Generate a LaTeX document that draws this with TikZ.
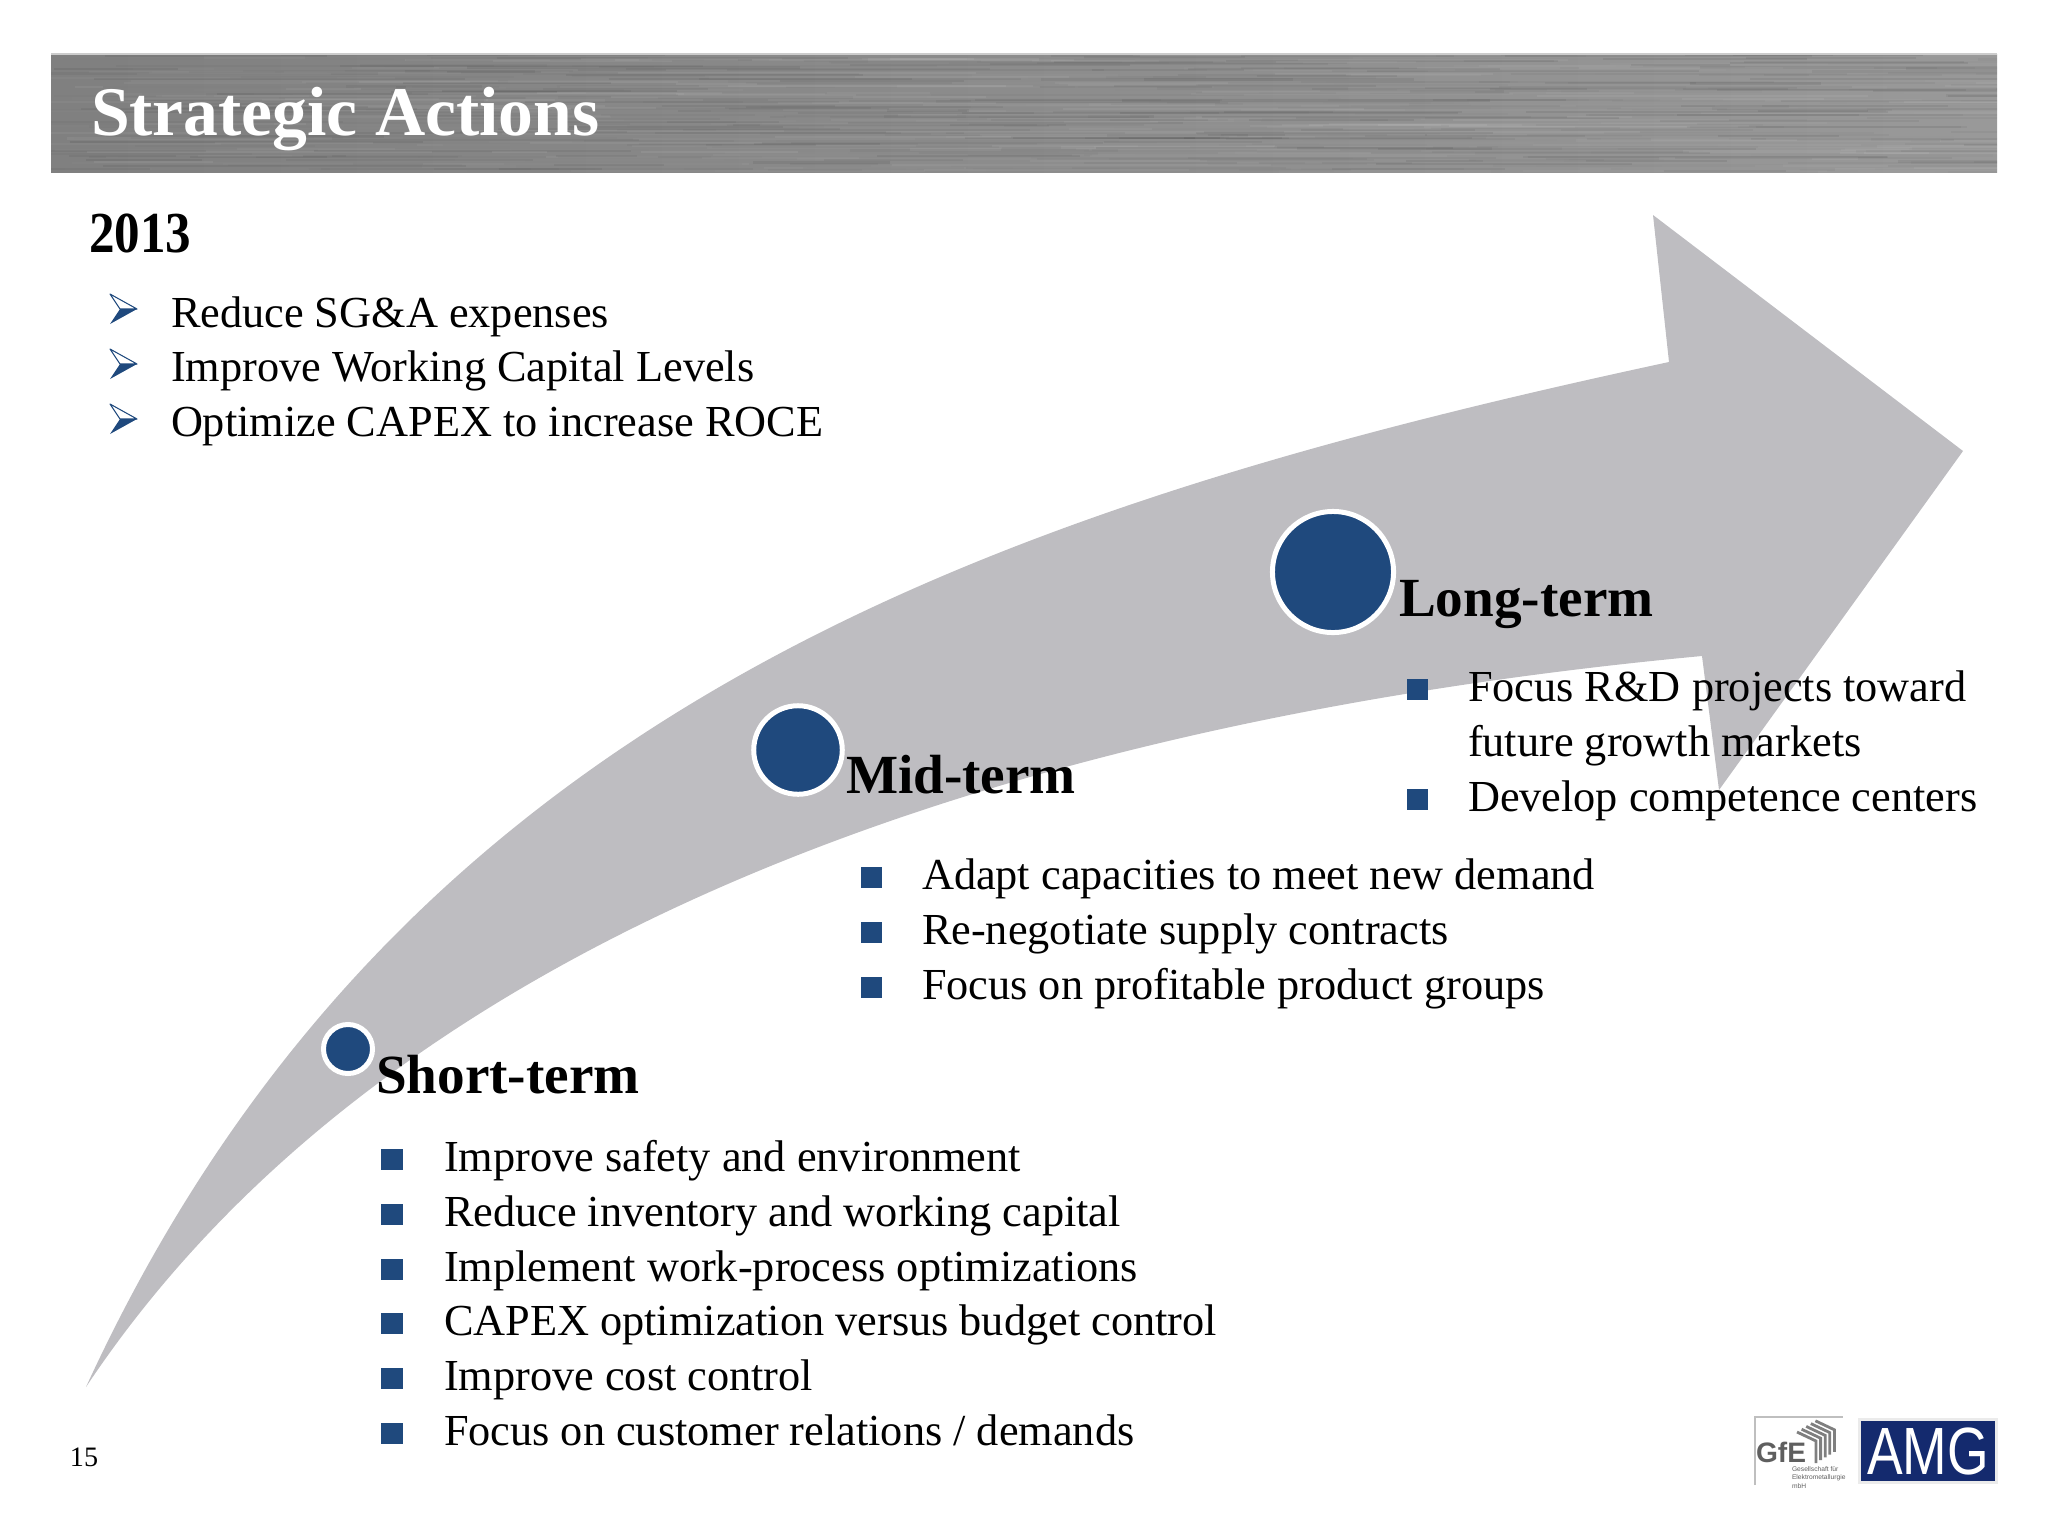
\documentclass[tikz,border=0pt]{standalone}
\usepackage{fontspec}
\setmainfont{Liberation Serif}
\newfontfamily\logofont{Liberation Sans}
\usepackage{tikz}
\definecolor{navyblue}{RGB}{31,73,125}
\definecolor{arrowgray}{RGB}{190,189,193}
\definecolor{amgblue}{RGB}{20,42,110}
\definecolor{gfegray}{RGB}{95,95,95}
\newcommand{\arrowbullet}[1]{
    \draw[navyblue,fill=white,line width=0.3pt,line join=round] (110,#1-15) -- (137,#1) -- (120,#1) -- cycle;
    \fill[navyblue] (110,#1+15) -- (137,#1) -- (120,#1) -- cycle;
}
\begin{document}
\begin{tikzpicture}[x=0.01cm,y=-0.01cm]
    \tikzstyle{every node}=[inner sep=0pt, outer sep=0pt];
    \tikzstyle{item}=[anchor=base west, font=\fontsize{12.6}{15}\selectfont];
    \tikzstyle{term}=[anchor=base west, font=\fontsize{15.7}{18}\selectfont\bfseries];
    \tikzstyle{square}=[fill=navyblue, minimum size=0.21cm];
    \tikzstyle{dot}=[circle, fill=navyblue, draw=white, line width=1.42pt];
    \useasboundingbox (0,0) rectangle (2048,1536);
    % banner
    \shade[left color=black!50, right color=black!40] (51,54) rectangle (1997,172);
    \begin{scope}
        \clip (51,54) rectangle (1997,172);
        \pgfmathsetseed{2013}
        \foreach \i in {1,...,700} {
            \pgfmathsetmacro{\xa}{rnd*2000}
            \pgfmathsetmacro{\ya}{54+rnd*118}
            \pgfmathsetmacro{\len}{80+rnd*300}
            \pgfmathsetmacro{\tone}{rnd*100}
            \draw[black!\tone!white, opacity=0.07, line width=0.6pt] (\xa,\ya) -- ++(\len,0);
        }
    \end{scope}
    \draw[black!20, line width=0.4pt] (51,54) -- (1997,54);
    \node[anchor=base west, text=white, font=\fontsize{19.8}{24}\selectfont\bfseries] (title) at (91,135) {Strategic Actions};
    % big arrow
    \fill[arrowgray] (86,1387) .. controls (395,715) and (980,510) .. (1669,362)
        -- (1653,215) -- (1963,451) -- (1719,790) -- (1702,656)
        .. controls (1050,717) and (400,915) .. (86,1387) -- cycle;
    % 2013 list
    \node[anchor=base west, font=\fontsize{16.5}{18}\selectfont\bfseries] (year) at (89,252) {\scalebox{0.88}[1]{2013}};
    \arrowbullet{309}
    \arrowbullet{364}
    \arrowbullet{419}
    \node[item] (reduce) at (171,327) {Reduce SG\&A expenses};
    \node[item] (working) at (171,381) {Improve Working Capital Levels};
    \node[item] (capex) at (171,436) {Optimize CAPEX to increase ROCE};
    % short-term
    \node[dot, minimum size=0.49cm] (shortdot) at (348,1049) {};
    \node[term] (short) at (376,1093) {Short-term};
    \foreach \y/\name/\txt in {1171/safety/Improve safety and environment,
        1226/inventory/Reduce inventory and working capital,
        1281/process/Implement work-process optimizations,
        1335/budget/CAPEX optimization versus budget control,
        1390/cost/Improve cost control,
        1445/customer/{Focus on customer relations / demands}} {
        \node[square] (sq\name) at (392,\y-12) {};
        \node[item] (\name) at (444,\y) {\txt};
    }
    % mid-term
    \node[dot, minimum size=0.885cm] (middot) at (798,750) {};
    \node[term] (mid) at (846,793) {Mid-term};
    \foreach \y/\name/\txt in {889/adapt/Adapt capacities to meet new demand,
        944/negotiate/Re-negotiate supply contracts,
        999/profit/Focus on profitable product groups} {
        \node[square] (sq\name) at (871,\y-12) {};
        \node[item] (\name) at (922,\y) {\txt};
    }
    % long-term
    \node[dot, minimum size=1.21cm] (longdot) at (1333,572) {};
    \node[term] (long) at (1399,616) {Long-term};
    \node[square] (sqfocus) at (1417,689) {};
    \node[item] (focus) at (1468,701) {Focus R\&D projects toward};
    \node[item] (future) at (1468,756) {future growth markets};
    \node[square] (sqcenters) at (1417,799) {};
    \node[item] (centers) at (1468,811) {Develop competence centers};
    % page number and logos
    \node[anchor=base west, font=\fontsize{8}{10}\selectfont] (page) at (70,1466) {15};
    \draw[black!25, line width=0.4pt] (1755,1485) -- (1755,1417) -- (1843,1417);
    \node[anchor=base west, text=gfegray, font=\logofont\bfseries\fontsize{8}{9}\selectfont] (gfe) at (1756,1462) {GfE};
    \node[anchor=north west, text=gfegray, align=left, font=\logofont\fontsize{1.9}{2.3}\selectfont] (gfetext) at (1792,1467) {Gesellschaft für\\Elektrometallurgie\\mbH};
    \foreach \k in {0,1,2,3,4} {
        \draw[gfegray!80, line width=0.8pt] (1797+\k*4.6,1432-\k*2.8) -- (1816+\k*4.6,1441-\k*2.8) -- (1816+\k*4.6,1463-\k*2.8);
    }
    \node[fill=amgblue, draw=black!8, line width=1pt, minimum width=1.37cm, minimum height=0.63cm, text=white, font=\logofont\fontsize{19}{21}\selectfont] (amg) at (1928,1451) {\scalebox{0.8}[1]{AMG}};
\end{tikzpicture}
\end{document}
